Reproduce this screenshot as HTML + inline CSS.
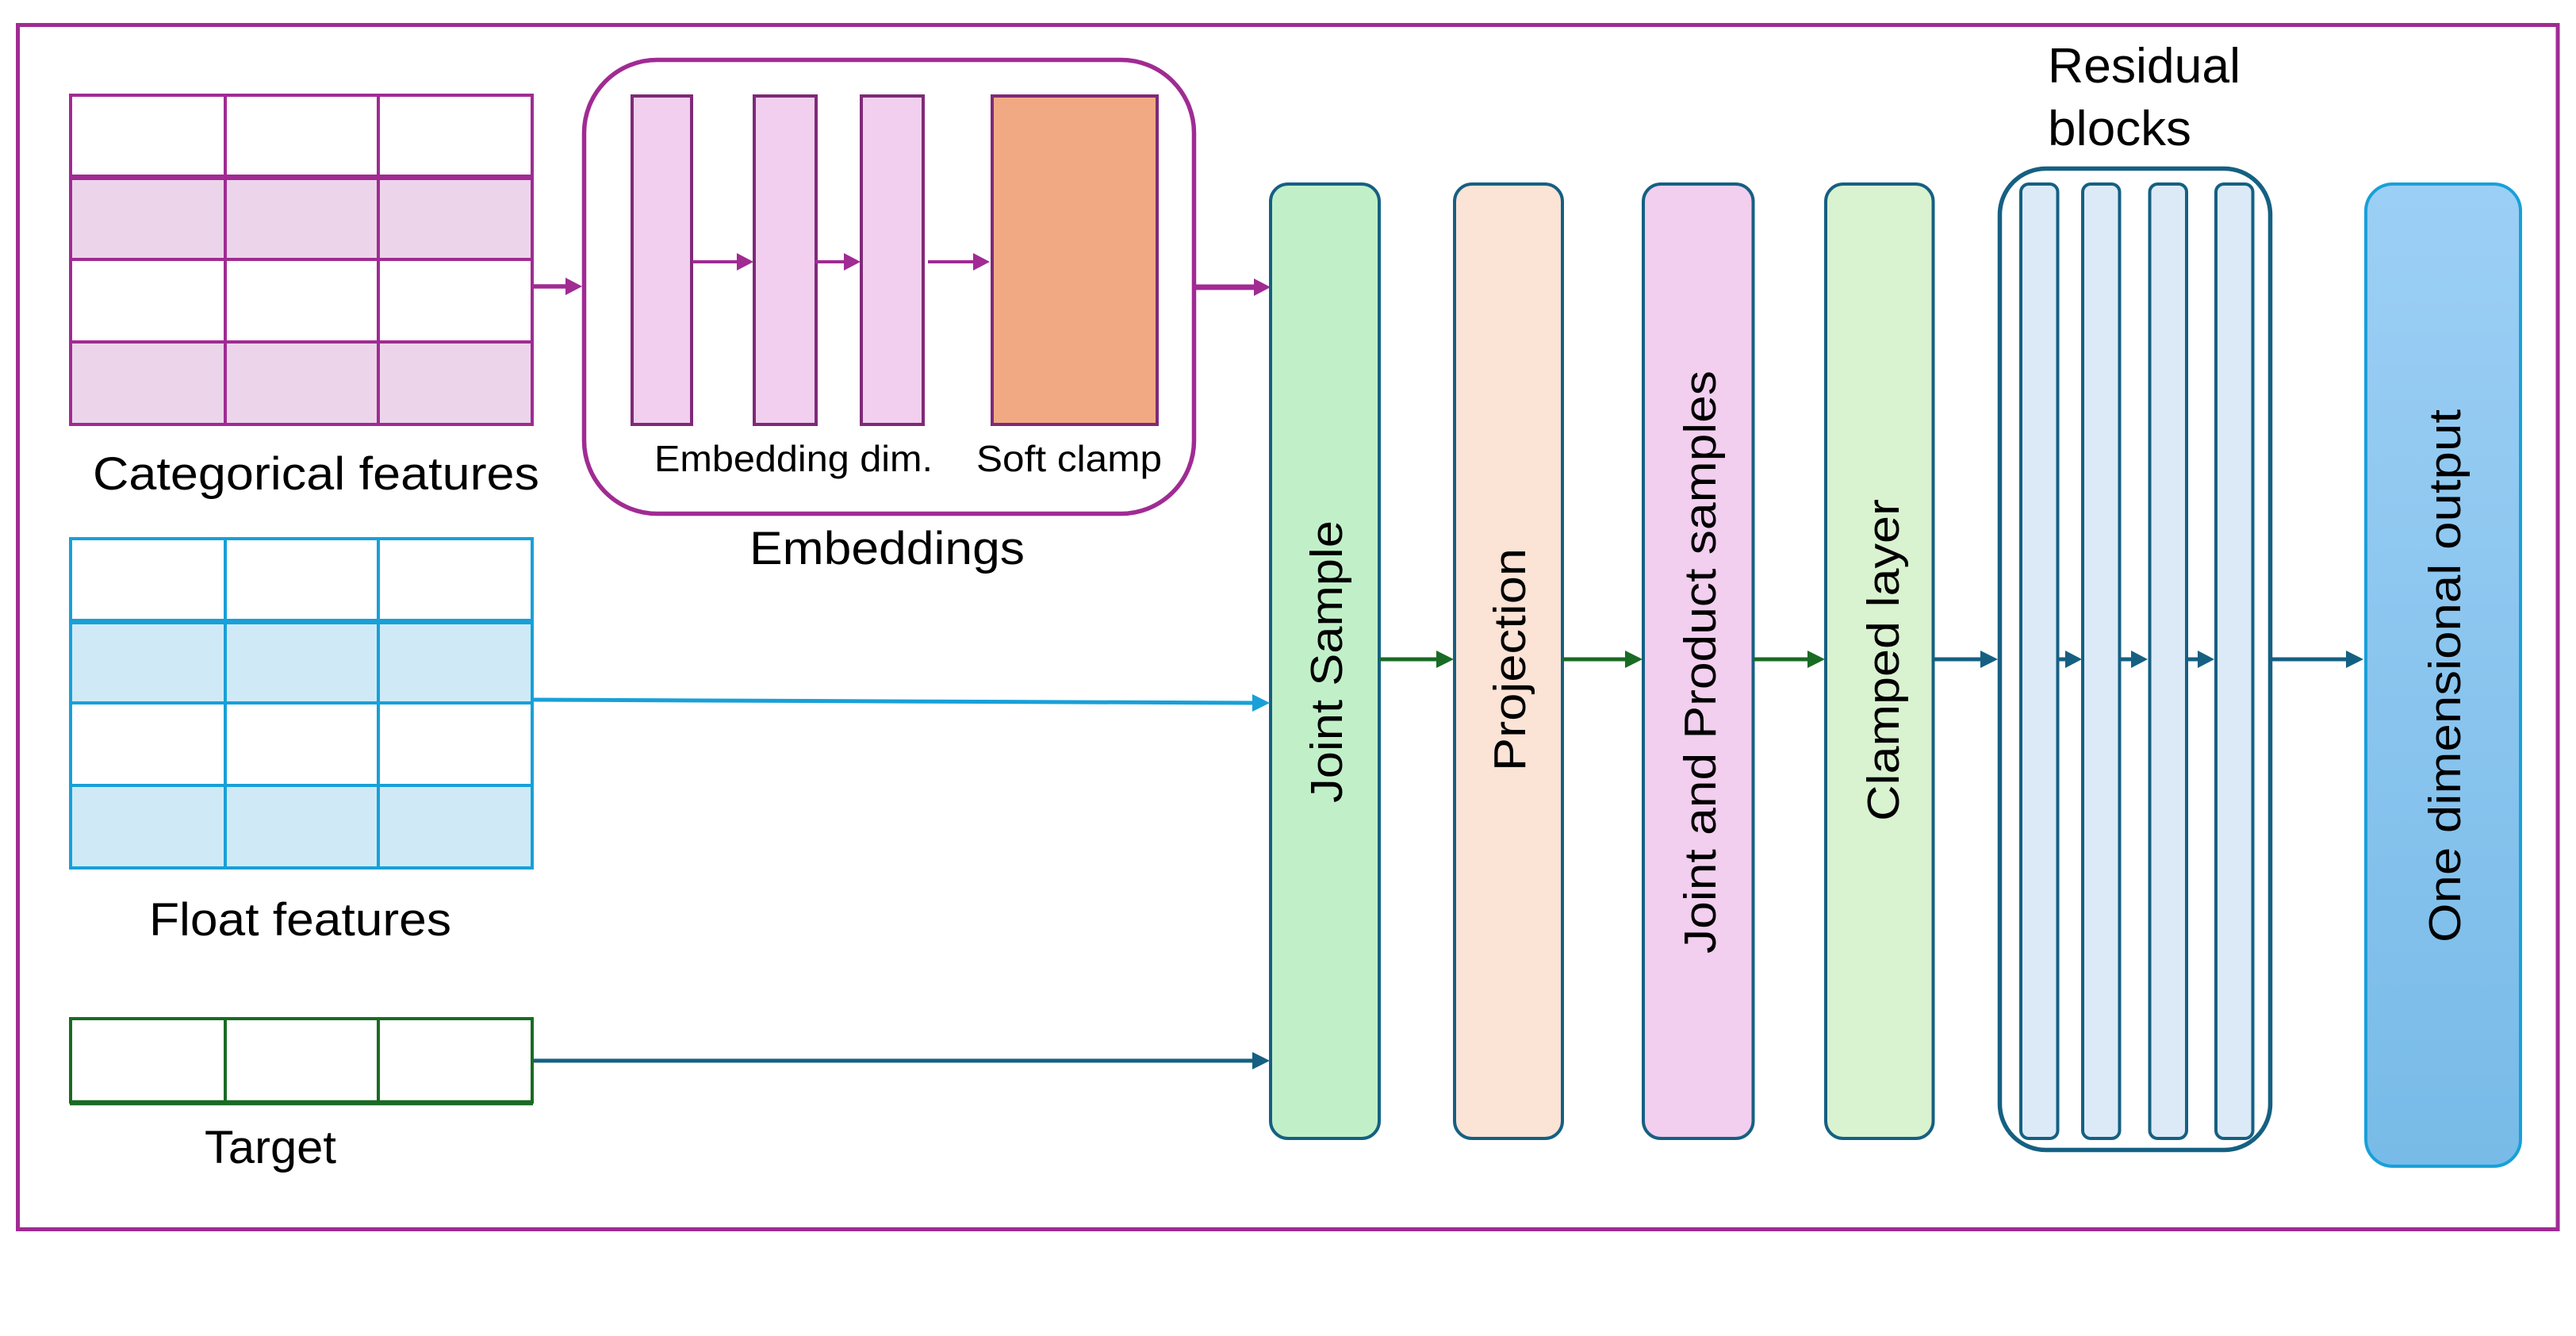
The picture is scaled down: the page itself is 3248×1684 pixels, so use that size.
<!DOCTYPE html>
<html><head><meta charset="utf-8"><style>
html,body{margin:0;padding:0;background:#fff}
svg{display:block}
text{font-family:"Liberation Sans",sans-serif;fill:#000}
</style></head><body>
<svg width="3248" height="1684" viewBox="0 0 3248 1684" xmlns="http://www.w3.org/2000/svg">
<defs><linearGradient id="g" x1="0" y1="0" x2="0" y2="1"><stop offset="0" stop-color="#9ccff5"/><stop offset="1" stop-color="#78bbe8"/></linearGradient></defs>
<rect width="3248" height="1684" fill="#fff"/>
<rect x="22.5" y="31.5" width="3202.5" height="1518" fill="none" stroke="#a02b93" stroke-width="5"/>

<!-- Categorical table -->
<g fill="#ecd5ea"><rect x="89" y="223" width="582" height="104"/><rect x="89" y="431" width="582" height="104"/></g>
<g stroke="#a02b93" stroke-width="4" fill="none">
<rect x="89" y="120" width="582" height="415"/>
<path d="M284 120V535M477 120V535M89 327H671M89 431H671"/>
<path d="M89 223.500H671" stroke-width="7"/>
</g>
<!-- Float table -->
<g fill="#cfeaf6"><rect x="89" y="783" width="582" height="103"/><rect x="89" y="990" width="582" height="104"/></g>
<g stroke="#18a0d8" stroke-width="4" fill="none">
<rect x="89" y="679" width="582" height="415"/>
<path d="M284 679V1094M477 679V1094M89 886H671M89 990H671"/>
<path d="M89 783.500H671" stroke-width="7"/>
</g>
<!-- Target table -->
<g stroke="#196b24" stroke-width="4" fill="none">
<rect x="89" y="1284" width="582" height="105"/>
<path d="M284 1284V1389M477 1284V1389"/>
<path d="M88 1390H672" stroke-width="6.500"/>
</g>

<!-- Embeddings group -->
<rect x="736.500" y="75.500" width="769" height="572" rx="92" ry="92" fill="#fff" stroke="#a02b93" stroke-width="5.500"/>
<g stroke="#7e2a78" stroke-width="4">
<rect x="797" y="121" width="75" height="414" fill="#f2ceef"/>
<rect x="951" y="121" width="78" height="414" fill="#f2ceef"/>
<rect x="1086" y="121" width="78" height="414" fill="#f2ceef"/>
<rect x="1251" y="121" width="208" height="414" fill="#f1a983"/>
</g>

<!-- Purple arrows -->
<g stroke="#a02b93" fill="none">
<path d="M671 361H716" stroke-width="5.500"/>
<path d="M873 330H932" stroke-width="4"/>
<path d="M1027 330H1066" stroke-width="4"/>
<path d="M1170 330H1230" stroke-width="4"/>
<path d="M1506 362H1584" stroke-width="7"/>
</g>
<g fill="#a02b93">
<polygon points="713,350 734,361 713,372"/>
<polygon points="929,319 950,330 929,341"/>
<polygon points="1064,319 1085,330 1064,341"/>
<polygon points="1227,319 1248,330 1227,341"/>
<polygon points="1581,351 1602,362 1581,373"/>
</g>

<!-- Columns -->
<g stroke="#156082" stroke-width="4">
<rect x="1602" y="232" width="137" height="1203" rx="22" fill="#c1f0c8"/>
<rect x="1834" y="232" width="136" height="1203" rx="22" fill="#fbe3d6"/>
<rect x="2072" y="232" width="138.500" height="1203" rx="22" fill="#f2ceef"/>
<rect x="2302" y="232" width="135.500" height="1203" rx="22" fill="#d9f2d0"/>
</g>
<rect x="2521.500" y="212.500" width="341" height="1237" rx="58" fill="#fff" stroke="#156082" stroke-width="5.500"/>
<g stroke="#156082" stroke-width="4" fill="#dceaf7">
<rect x="2548" y="232" width="46.500" height="1203" rx="10"/>
<rect x="2626" y="232" width="46.500" height="1203" rx="10"/>
<rect x="2710.500" y="232" width="46.500" height="1203" rx="10"/>
<rect x="2794" y="232" width="46.500" height="1203" rx="10"/>
</g>
<rect x="2983" y="232" width="195" height="1238" rx="34" fill="url(#g)" stroke="#18a0d8" stroke-width="4"/>

<!-- Connectors -->
<path d="M673 882L1582 886" stroke="#18a0d8" stroke-width="5" fill="none"/>
<polygon points="1579,875 1601,886 1579,897" fill="#18a0d8"/>
<path d="M673 1337H1582" stroke="#156082" stroke-width="5" fill="none"/>
<polygon points="1579,1326 1601,1337 1579,1348" fill="#156082"/>
<g stroke="#196b24" stroke-width="5" fill="none"><path d="M1740 831H1815M1970 831H2052M2211 831H2282"/></g>
<g fill="#196b24">
<polygon points="1811,820 1833,831 1811,842"/>
<polygon points="2049,820 2071,831 2049,842"/>
<polygon points="2279,820 2301,831 2279,842"/>
</g>
<g stroke="#156082" stroke-width="5" fill="none"><path d="M2438 831H2500M2595 831H2608M2672 831H2690M2757 831H2775M2864 831H2962"/></g>
<g fill="#156082">
<polygon points="2497,820 2519,831 2497,842"/>
<polygon points="2604,820 2625,831 2604,842"/>
<polygon points="2687,820 2708,831 2687,842"/>
<polygon points="2771,820 2792,831 2771,842"/>
<polygon points="2958,820 2980,831 2958,842"/>
</g>

<!-- Horizontal labels -->
<text x="117" y="617" font-size="58" textLength="563" lengthAdjust="spacingAndGlyphs">Categorical features</text>
<text x="188" y="1179" font-size="58" textLength="381" lengthAdjust="spacingAndGlyphs">Float features</text>
<text x="258" y="1466" font-size="58" textLength="166" lengthAdjust="spacingAndGlyphs">Target</text>
<text x="945" y="711" font-size="58" textLength="347" lengthAdjust="spacingAndGlyphs">Embeddings</text>
<text x="825" y="594" font-size="46" textLength="351" lengthAdjust="spacingAndGlyphs">Embedding dim.</text>
<text x="1231" y="594" font-size="46" textLength="234" lengthAdjust="spacingAndGlyphs">Soft clamp</text>
<text x="2582" y="104" font-size="62" textLength="243" lengthAdjust="spacingAndGlyphs">Residual</text>
<text x="2582" y="183" font-size="62" textLength="181" lengthAdjust="spacingAndGlyphs">blocks</text>

<!-- Rotated labels -->
<text transform="translate(1692 1012) rotate(-90)" font-size="57" textLength="356" lengthAdjust="spacingAndGlyphs">Joint Sample</text>
<text transform="translate(1923 972) rotate(-90)" font-size="57" textLength="281" lengthAdjust="spacingAndGlyphs">Projection</text>
<text transform="translate(2163 1202) rotate(-90)" font-size="57" textLength="735" lengthAdjust="spacingAndGlyphs">Joint and Product samples</text>
<text transform="translate(2394 1035) rotate(-90)" font-size="57" textLength="406" lengthAdjust="spacingAndGlyphs">Clamped layer</text>
<text transform="translate(3102 1188) rotate(-90)" font-size="57" textLength="672" lengthAdjust="spacingAndGlyphs">One dimensional output</text>
</svg>
</body></html>
